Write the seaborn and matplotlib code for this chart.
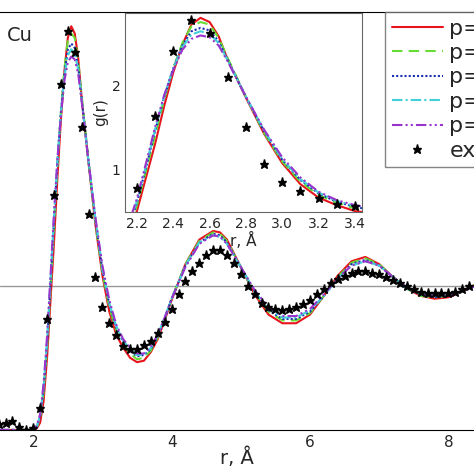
import numpy as np
import matplotlib
matplotlib.use("Agg")
import matplotlib.pyplot as plt
import seaborn as sns

sns.set_style("white")
plt.rcParams['font.family'] = ['DejaVu Sans']

r = [1.5,1.9,2.0,2.05,2.1,2.15,2.2,2.25,2.3,2.35,2.4,2.45,2.5,2.55,2.6,2.65,2.7,2.8,2.9,3.0,
     3.1,3.2,3.3,3.4,3.5,3.6,3.7,3.8,3.9,4.0,4.2,4.4,4.6,4.7,4.8,5.0,5.2,5.4,5.6,5.8,6.0,
     6.2,6.4,6.6,6.8,7.0,7.2,7.4,7.6,7.8,8.0,8.2,8.4]
g_p0 = [0,0,0,0.01,0.05,0.2,0.5,0.9,1.3,1.75,2.15,2.48,2.72,2.8,2.75,2.58,2.3,1.85,1.42,1.07,
        0.82,0.66,0.57,0.5,0.47,0.48,0.54,0.63,0.76,0.9,1.15,1.32,1.38,1.37,1.32,1.13,0.94,0.8,0.74,0.74,0.8,
        0.93,1.07,1.17,1.2,1.15,1.06,0.98,0.93,0.91,0.92,0.96,1.01]
g_p025 = [0,0,0,0.02,0.08,0.26,0.57,0.98,1.4,1.83,2.2,2.5,2.7,2.75,2.72,2.56,2.32,1.86,1.43,1.09,
          0.85,0.69,0.6,0.53,0.49,0.5,0.55,0.64,0.77,0.91,1.15,1.31,1.37,1.36,1.31,1.13,0.95,0.82,0.76,0.76,0.81,
          0.93,1.06,1.16,1.19,1.15,1.06,0.98,0.93,0.92,0.93,0.96,1.01]
g_p05 = [0,0,0,0.02,0.09,0.28,0.6,1.02,1.45,1.86,2.2,2.47,2.64,2.68,2.65,2.52,2.3,1.86,1.45,1.11,
         0.87,0.71,0.61,0.55,0.51,0.52,0.56,0.65,0.77,0.91,1.14,1.3,1.36,1.35,1.3,1.13,0.96,0.83,0.77,0.77,0.82,
         0.93,1.05,1.15,1.18,1.14,1.06,0.98,0.94,0.92,0.93,0.96,1.0]
g_p075 = [0,0,0,0.02,0.1,0.3,0.62,1.04,1.47,1.87,2.2,2.45,2.6,2.64,2.61,2.5,2.29,1.86,1.46,1.12,
          0.88,0.72,0.62,0.56,0.52,0.52,0.57,0.66,0.78,0.91,1.14,1.3,1.35,1.34,1.29,1.13,0.96,0.84,0.78,0.78,0.83,
          0.93,1.05,1.14,1.17,1.14,1.06,0.98,0.94,0.93,0.93,0.96,1.0]
g_p1 = [0,0,0,0.03,0.11,0.32,0.65,1.07,1.5,1.88,2.18,2.42,2.55,2.59,2.57,2.47,2.28,1.86,1.47,1.14,
        0.9,0.73,0.63,0.57,0.53,0.53,0.58,0.66,0.78,0.91,1.13,1.29,1.35,1.34,1.29,1.13,0.97,0.85,0.79,0.79,0.84,
        0.94,1.05,1.14,1.17,1.14,1.06,0.99,0.94,0.93,0.94,0.96,1.0]

r_exp = [1.5,1.6,1.7,1.8,1.9,2.0,2.1,2.2,2.3,2.4,2.5,2.6,2.7,2.8,2.9,3.0,3.1,3.2,3.3,3.4,3.5,3.6,3.7,3.8,
         3.9,4.0,4.1,4.2,4.3,4.4,4.5,4.6,4.7,4.8,4.9,5.0,5.1,5.2,5.3,5.4,5.5,5.6,5.7,5.8,5.9,6.0,6.1,6.2,
         6.3,6.4,6.5,6.6,6.7,6.8,6.9,7.0,7.1,7.2,7.3,7.4,7.5,7.6,7.7,7.8,7.9,8.0,8.1,8.2,8.3]
g_exp = [0.04,0.05,0.06,0.02,0.0,0.01,0.15,0.77,1.63,2.4,2.77,2.62,2.1,1.5,1.06,0.85,0.74,0.66,0.58,0.56,0.56,0.59,
         0.62,0.67,0.75,0.84,0.94,1.03,1.1,1.16,1.21,1.25,1.25,1.21,1.16,1.08,1.0,0.94,0.88,0.85,0.84,0.83,
         0.84,0.85,0.87,0.9,0.94,0.98,1.02,1.05,1.07,1.09,1.1,1.1,1.09,1.08,1.06,1.04,1.02,1.0,0.98,0.96,
         0.95,0.95,0.95,0.95,0.96,0.98,1.0]

labels = ["p=0", "p=0.25", "p=0.5", "p=0.75", "p=1", "exp"]
colors = ["#e8141c", "#66dd33", "#1c2eb0", "#40d0d8", "#9933cc"]
styles = ["-", (0, (5, 3)), (0, (1, 1)), (0, (5, 1.5, 1, 1.5)), (0, (5, 1.5, 1, 1.5, 1, 1.5))]
series = [g_p0, g_p025, g_p05, g_p075, g_p1]

fig = plt.figure(figsize=(4.74, 4.74), dpi=100)
ax = fig.add_axes([0.0, 0.093, 1.0, 0.882])
ins = fig.add_axes([0.264, 0.553, 0.5, 0.42])

for a, lw, ms in [(ax, 1.5, 6.5), (ins, 1.5, 6.5)]:
    for g, c, ls, lab in zip(series, colors, styles, labels):
        sns.lineplot(x=r, y=g, ax=a, color=c, linestyle=ls, lw=lw, label=lab, legend=False)
    a.plot(r_exp, g_exp, linestyle="none", marker="*", color="black", ms=ms, label="exp")

ax.axhline(1.0, color="#999999", lw=1, zorder=0)
ax.set_xlim(1.52, 8.37)
ax.set_ylim(0, 2.9)
ax.set_xticks([2, 4, 6, 8])
ax.set_xticks([3, 5, 7], minor=True)
ax.set_yticks([])
ax.tick_params(axis='x', which='both', direction='in', labelsize=11, length=4)
ax.tick_params(axis='x', which='minor', length=2.5)
ax.set_xlabel("r, Å", fontsize=14, labelpad=-2)
for s in ax.spines.values():
    s.set_color("black")
ax.spines['left'].set_visible(False)
ax.spines['right'].set_visible(False)
ax.text(0.015, 0.93, "Cu", transform=ax.transAxes, fontsize=14)

ins.set_xlim(2.135, 3.44)
ins.set_ylim(0.49, 2.86)
ins.set_xticks([2.2, 2.4, 2.6, 2.8, 3.0, 3.2, 3.4])
ins.set_yticks([1, 2])
ins.tick_params(labelsize=10, direction='in', length=3)
ins.set_xlabel("r, Å", fontsize=11, labelpad=1)
ins.set_ylabel("g(r)", fontsize=11, labelpad=2)
for s in ins.spines.values():
    s.set_color("#666666")

h, l = ax.get_legend_handles_labels()
leg = fig.legend(h, l, loc="upper left", bbox_to_anchor=(0.812, 0.975), fontsize=16,
                 frameon=True, fancybox=False, edgecolor="#666666", handlelength=2.3,
                 handletextpad=0.3, borderpad=0.3, borderaxespad=0, labelspacing=0.2)
fig.savefig("out.png", dpi=100)
